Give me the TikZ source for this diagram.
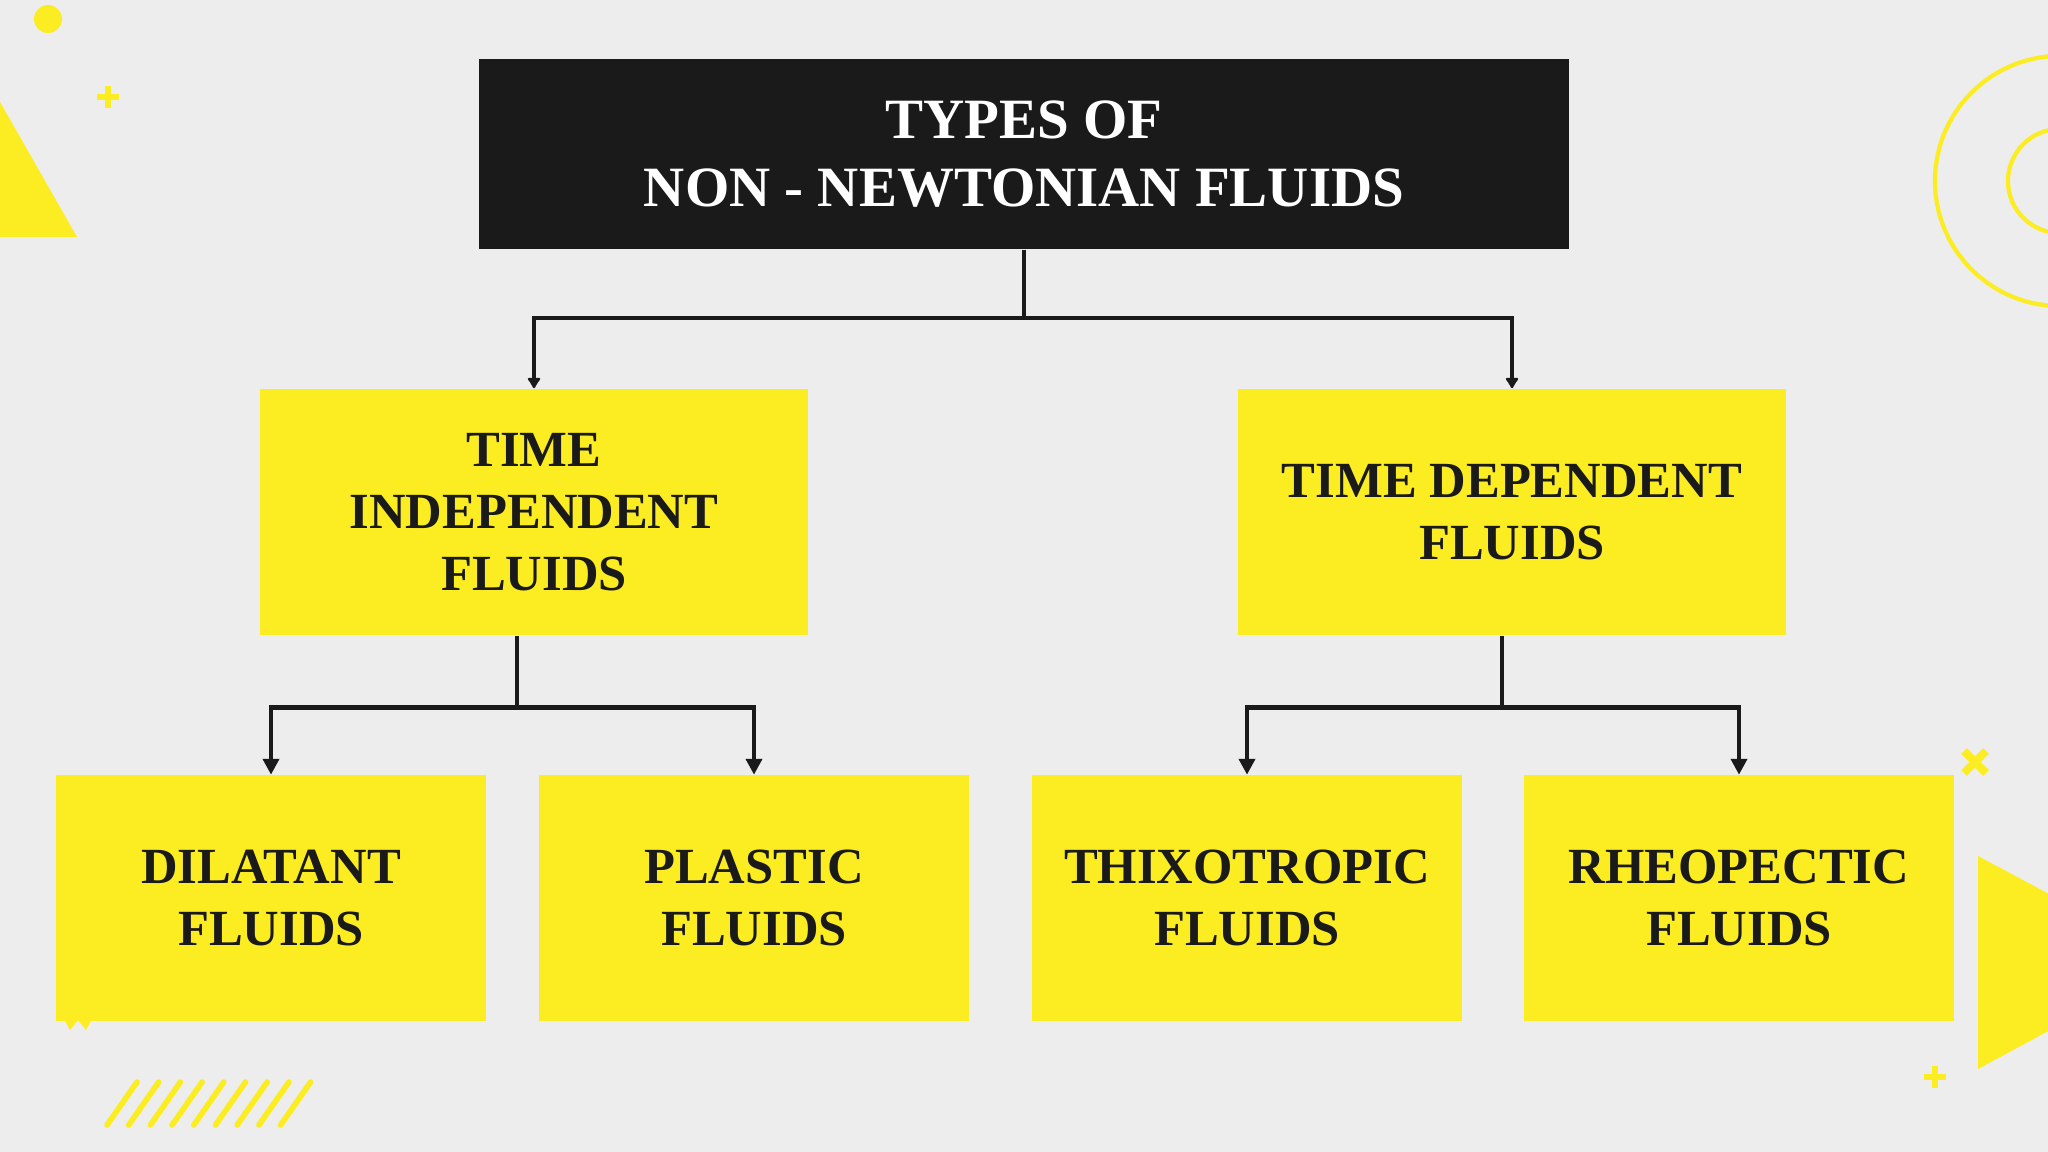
\documentclass[tikz,border=0pt]{standalone}
\usepackage{fontspec}
\setmainfont{Liberation Serif}
\usetikzlibrary{calc, positioning, arrows.meta}
\definecolor{bgrey}{HTML}{EDEDED}
\definecolor{fyellow}{HTML}{FCEC22}
\definecolor{ink}{HTML}{1A1A1A}

\begin{document}
\begin{tikzpicture}[x=0.01cm,y=-0.01cm,
  topbox/.style={fill=ink, text=white, inner sep=0pt, minimum width=10.9cm, minimum height=1.9cm, align=center, font=\bfseries\fontsize{16.2}{19.3}\selectfont},
  midbox/.style={fill=fyellow, text=ink, inner sep=0pt, minimum width=5.48cm, minimum height=2.46cm, align=center, font=\bfseries\fontsize{14.4}{17.6}\selectfont},
  lowbox/.style={midbox, minimum width=4.3cm, minimum height=2.45cm},
  link/.style={draw=ink, line width=1.05pt, -{Latex[length=3.5pt,width=4.5pt,round]}},
  sublink/.style={draw=ink, line width=1.3pt, -{Triangle[length=4.5pt,width=4.5pt]}}]
\useasboundingbox (0,0) rectangle (2048,1152);
\clip (0,0) rectangle (2048,1152);
\fill[bgrey] (0,0) rectangle (2048,1152);
%decorations
\fill[fyellow] (48,19) circle (0.14cm);
\fill[fyellow] (0,102) -- (77,237) -- (0,237) -- cycle;
\draw[fyellow, line width=1.5pt] (97,97) -- (119,97) (108,86) -- (108,108);
\draw[fyellow, line width=1.2pt] (2060,181) circle (1.25cm) (2060,181) circle (0.52cm);
\draw[fyellow, line width=2.3pt] (1964,751) -- (1986,773) (1964,773) -- (1986,751);
\fill[fyellow] (1978,856) -- (2176,962) -- (1978,1069) -- cycle;
\draw[fyellow, line width=1.5pt] (1924,1077) -- (1946,1077) (1935,1066) -- (1935,1088);
\fill[fyellow] (62,1015) -- (70,1030) -- (78,1020) -- (86,1030) -- (94,1015) -- cycle;
\foreach \i in {0,...,8} {\draw[fyellow, line width=1.6pt, line cap=round] ({107+21.7*\i},1125) -- ({137+21.7*\i},1082);}

\node[topbox] (types) at (1024,154) {TYPES OF\\NON - NEWTONIAN FLUIDS};
\node[midbox] (tind) at (534,512) {TIME\\INDEPENDENT\\FLUIDS};
\node[midbox] (tdep) at (1512,512) {TIME DEPENDENT\\FLUIDS};
\node[lowbox] (dil) at (271,898) {DILATANT\\FLUIDS};
\node[lowbox] (pla) at (754,898) {PLASTIC\\FLUIDS};
\node[lowbox] (thx) at (1247,898) {THIXOTROPIC\\FLUIDS};
\node[lowbox] (rhe) at (1739,898) {RHEOPECTIC\\FLUIDS};

\draw[link] (types.south) -- ++(0,68) -| (tind.north);
\draw[link] (types.south) -- ++(0,68) -| (tdep.north);
\draw[sublink] ($(tind.south)+(-17,0)$) -- ++(0,72) -| (dil.north);
\draw[sublink] ($(tind.south)+(-17,0)$) -- ++(0,72) -| (pla.north);
\draw[sublink] ($(tdep.south)+(-10,0)$) -- ++(0,72) -| (thx.north);
\draw[sublink] ($(tdep.south)+(-10,0)$) -- ++(0,72) -| (rhe.north);
\end{tikzpicture}
\end{document}
